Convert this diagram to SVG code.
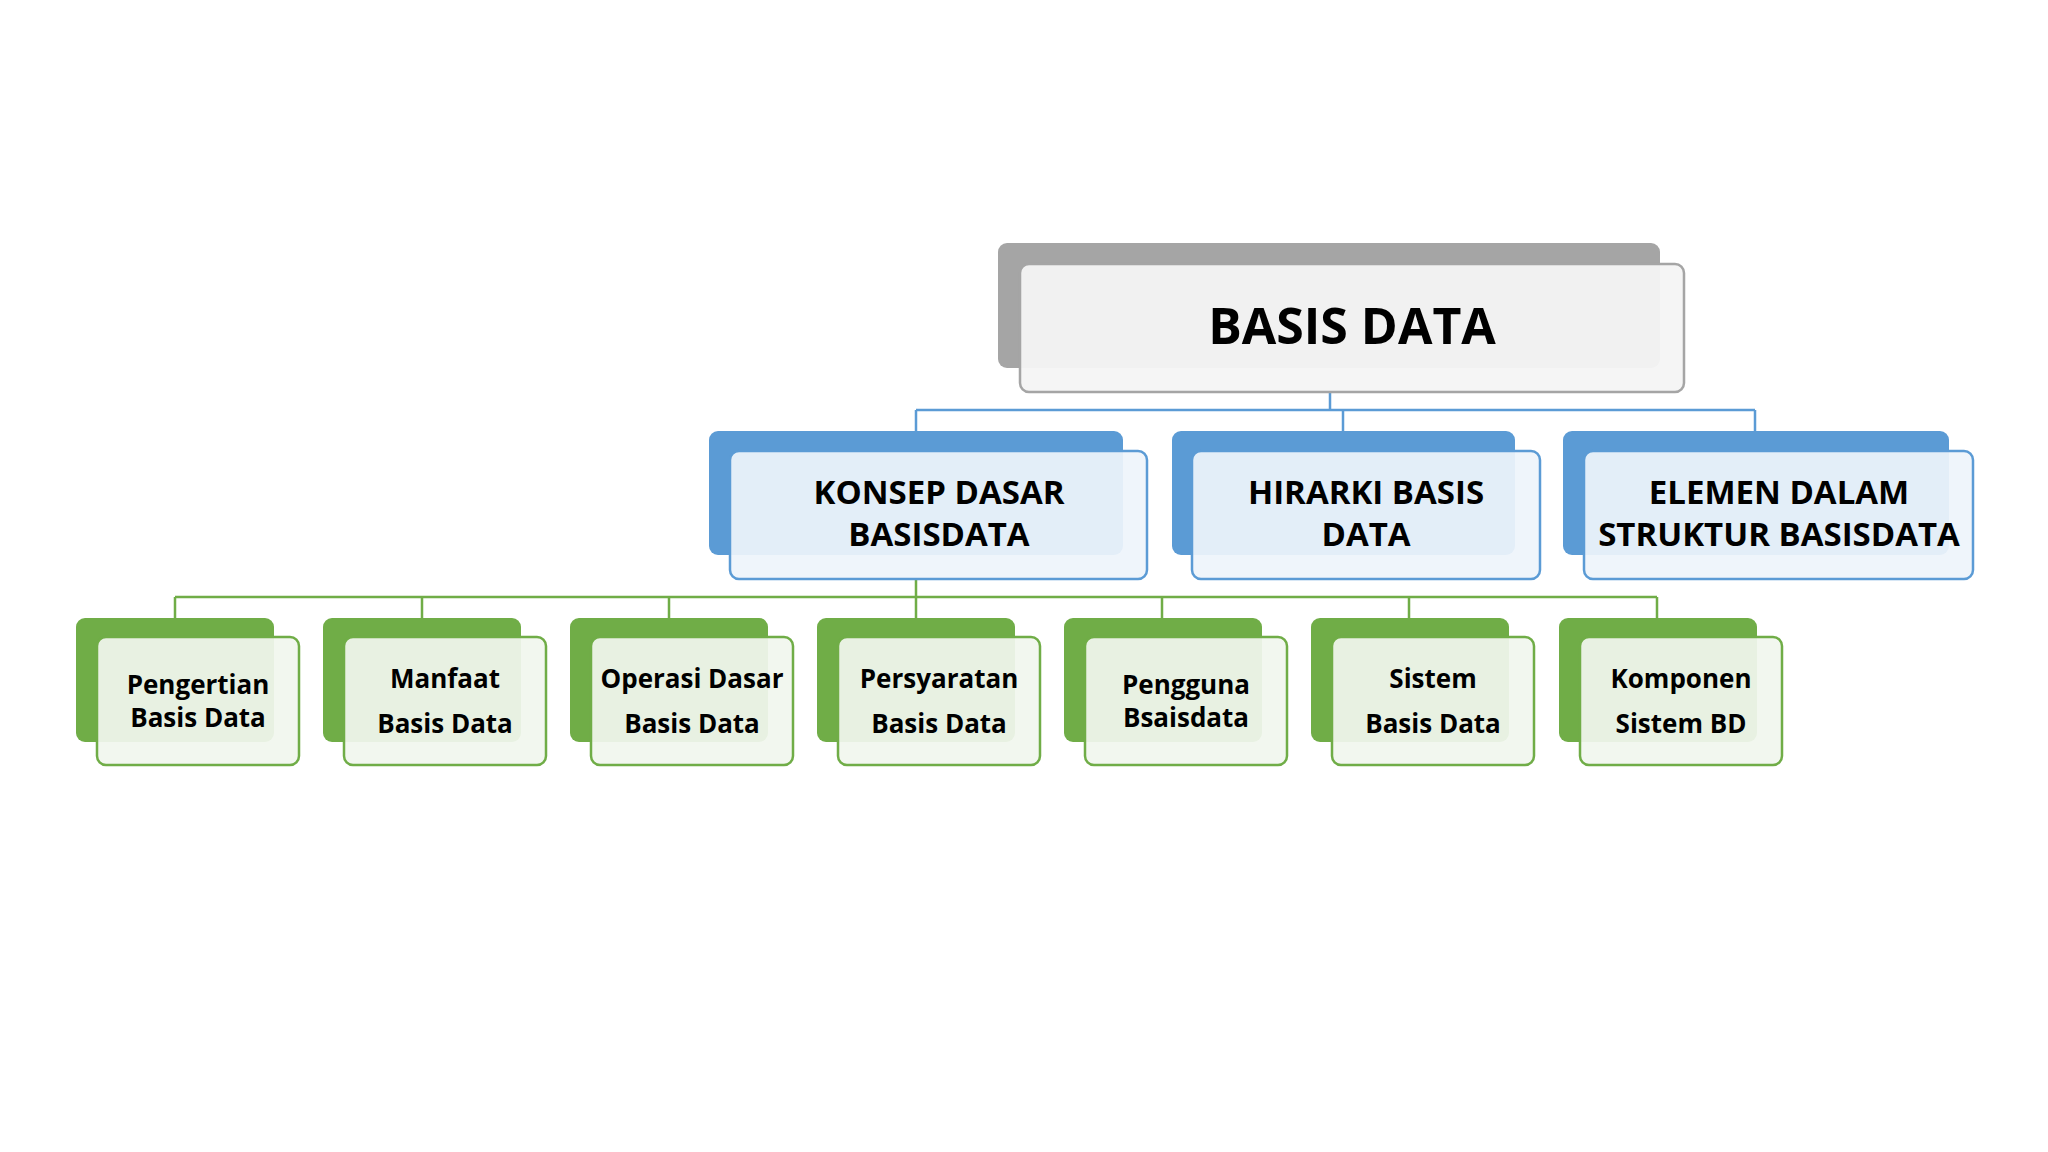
<svg xmlns="http://www.w3.org/2000/svg" width="2048" height="1152" viewBox="0 0 2048 1152">
<style>
text{font-family:"Open Sans","Noto Sans",sans-serif;font-weight:bold;fill:#000;text-anchor:middle}
.bk{rx:8}
.g{fill:#70ad47}.gf{fill:#f1f6ee;fill-opacity:0.93;stroke:#70ad47;stroke-width:2.5}
.b{fill:#5b9bd5}.bf{fill:#eef4fb;fill-opacity:0.93;stroke:#5b9bd5;stroke-width:2.5}
.cb{stroke:#5b9bd5;stroke-width:2.5;fill:none}
.cg{stroke:#70ad47;stroke-width:2.5;fill:none}
.t3{font-size:26px}.t2{font-size:33px}
</style>
<rect width="2048" height="1152" fill="#fff"/>
<g id="connectors">
<path class="cb" d="M1330 392V410M916 410H1755M916 410V431M1343 410V431M1755 410V431"/>
<path class="cg" d="M916 579V597M175 597H1657M175 597V618M422 597V618M669 597V618M916 597V618M1162 597V618M1409 597V618M1657 597V618"/>
</g>
<g id="root">
<rect x="998" y="243" width="662" height="125" rx="9" fill="#a5a5a5"/>
<rect x="1020" y="264" width="664" height="128" rx="9" fill="#f4f4f4" fill-opacity="0.95" stroke="#a5a5a5" stroke-width="2.5"/>
<text x="1352" y="344" style="font-size:50px">BASIS DATA</text>
</g>
<g id="konsep">
<rect class="b" x="709" y="431" width="414" height="124" rx="9"/>
<rect class="bf" x="730" y="451" width="417" height="128" rx="9"/>
<text class="t2" x="939" y="504">KONSEP DASAR</text><text class="t2" x="939" y="546">BASISDATA</text>
</g>
<g id="hirarki">
<rect class="b" x="1172" y="431" width="343" height="124" rx="9"/>
<rect class="bf" x="1192" y="451" width="348" height="128" rx="9"/>
<text class="t2" x="1366" y="504">HIRARKI BASIS</text><text class="t2" x="1366" y="546">DATA</text>
</g>
<g id="elemen">
<rect class="b" x="1563" y="431" width="386" height="124" rx="9"/>
<rect class="bf" x="1584" y="451" width="389" height="128" rx="9"/>
<text class="t2" x="1779" y="504">ELEMEN DALAM</text><text class="t2" x="1779" y="546">STRUKTUR BASISDATA</text>
</g>
<g id="pengertian">
<rect class="g" x="76" y="618" width="198" height="124" rx="9"/><rect class="gf" x="97" y="637" width="202" height="128" rx="9"/>
<text class="t3" x="198" y="694">Pengertian</text><text class="t3" x="198" y="727">Basis Data</text>
</g>
<g id="manfaat">
<rect class="g" x="323" y="618" width="198" height="124" rx="9"/><rect class="gf" x="344" y="637" width="202" height="128" rx="9"/>
<text class="t3" x="445" y="688">Manfaat</text><text class="t3" x="445" y="733">Basis Data</text>
</g>
<g id="operasi">
<rect class="g" x="570" y="618" width="198" height="124" rx="9"/><rect class="gf" x="591" y="637" width="202" height="128" rx="9"/>
<text class="t3" x="692" y="688">Operasi Dasar</text><text class="t3" x="692" y="733">Basis Data</text>
</g>
<g id="persyaratan">
<rect class="g" x="817" y="618" width="198" height="124" rx="9"/><rect class="gf" x="838" y="637" width="202" height="128" rx="9"/>
<text class="t3" x="939" y="688">Persyaratan</text><text class="t3" x="939" y="733">Basis Data</text>
</g>
<g id="pengguna">
<rect class="g" x="1064" y="618" width="198" height="124" rx="9"/><rect class="gf" x="1085" y="637" width="202" height="128" rx="9"/>
<text class="t3" x="1186" y="694">Pengguna</text><text class="t3" x="1186" y="727">Bsaisdata</text>
</g>
<g id="sistem">
<rect class="g" x="1311" y="618" width="198" height="124" rx="9"/><rect class="gf" x="1332" y="637" width="202" height="128" rx="9"/>
<text class="t3" x="1433" y="688">Sistem</text><text class="t3" x="1433" y="733">Basis Data</text>
</g>
<g id="komponen">
<rect class="g" x="1559" y="618" width="198" height="124" rx="9"/><rect class="gf" x="1580" y="637" width="202" height="128" rx="9"/>
<text class="t3" x="1681" y="688">Komponen</text><text class="t3" x="1681" y="733">Sistem BD</text>
</g>
</svg>
